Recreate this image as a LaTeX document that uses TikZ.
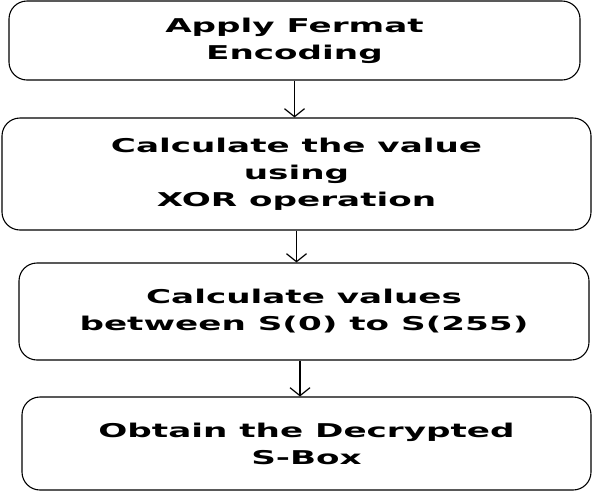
\documentclass[tikz,border=0pt]{standalone}
\usepackage{fontspec}
\newfontfamily\stagefont{DejaVu Sans}[FakeStretch=1.8]
\usetikzlibrary{arrows.meta}
\begin{document}
\begin{tikzpicture}[x=1pt, y=-1pt,
    stagebox/.style={draw, line width=1.1pt, rounded corners=18pt, align=center, inner sep=0pt,
      font=\stagefont\bfseries\fontsize{19}{27}\selectfont},
    flow/.style={line width=1.2pt, -{Straight Barb[length=8pt, width=20pt, line width=1.2pt]}}]
      \useasboundingbox (0,0) rectangle (594,491);
      \node[stagebox, minimum width=571pt, minimum height=79pt] (stage1) at (294.5,40.5){Apply Fermat\\Encoding};
      \node[stagebox, minimum width=589pt, minimum height=112pt] (stage2) at (296.5,174){Calculate the value\\using\\XOR operation};
      \node[stagebox, minimum width=570pt, minimum height=97pt] (stage3) at (304,311.5){Calculate values\\between S(0) to S(255)};
      \node[stagebox, minimum width=569pt, minimum height=93pt] (stage4) at (306.5,443.5){Obtain the Decrypted\\S-Box};
      \draw[flow](stage1.south) -- (stage1.south |- stage2.north);
      \draw[flow](stage2.south) -- (stage2.south |- stage3.north);
      \draw[flow]([xshift=-4pt]stage3.south) -- ([xshift=-4pt]stage3.south |- stage4.north);

    \end{tikzpicture}
\end{document}
